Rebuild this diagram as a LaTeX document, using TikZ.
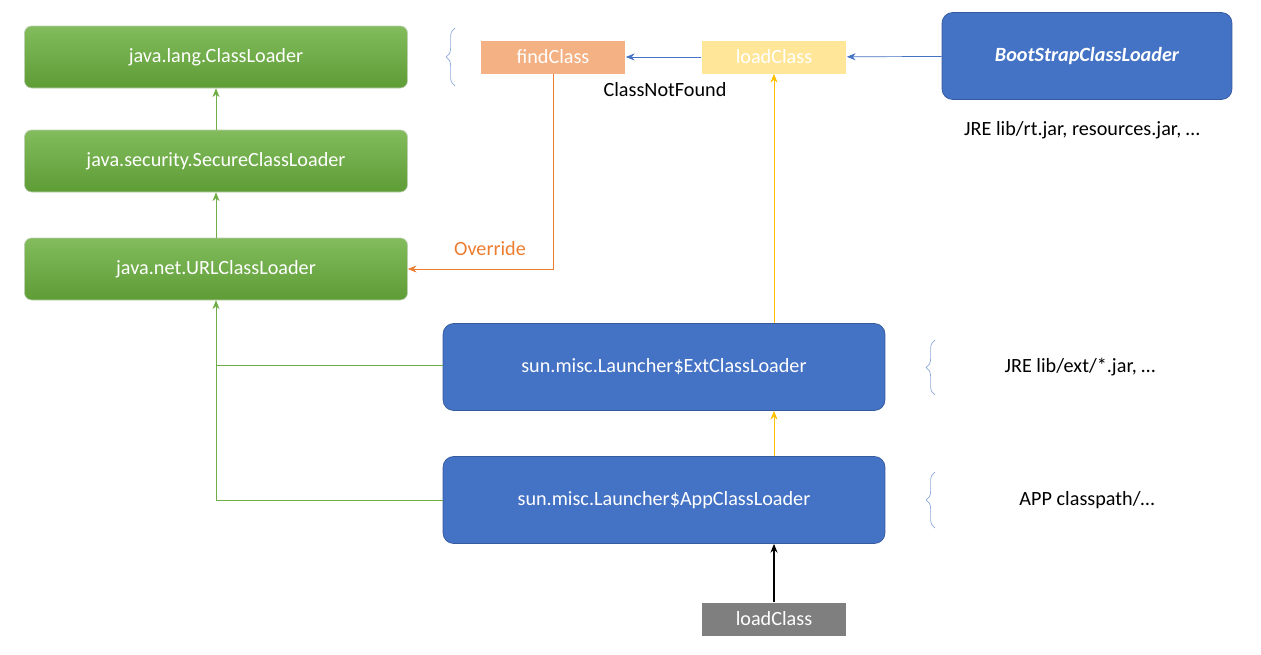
\documentclass[tikz,border=0pt]{standalone}
\usepackage{fontspec}
\setmainfont{Carlito}
\usetikzlibrary{decorations.pathreplacing,arrows.meta}
\definecolor{grn}{HTML}{70AD47}
\definecolor{grntop}{HTML}{82BC5C}
\definecolor{grnbot}{HTML}{5E9C36}
\definecolor{blu}{HTML}{4472C4}
\definecolor{sal}{HTML}{F4B183}
\definecolor{yel}{HTML}{FFE699}
\definecolor{gry}{HTML}{7F7F7F}
\definecolor{org}{HTML}{ED7D31}
\definecolor{gld}{HTML}{FFC000}
\definecolor{brc}{HTML}{8FAADC}
\tikzstyle{green} = [rounded corners=4pt,top color=grntop,bottom color=grnbot,draw=grn!80!black!40,text=white,minimum width=7.66cm,minimum height=1.24cm,font=\fontsize{11.5}{13}\selectfont]
\tikzstyle{blue} = [rounded corners=6pt,fill=blu,draw=blu!80!black,text=white,minimum height=1.74cm,font=\fontsize{11.5}{13}\selectfont]
\tikzstyle{small} = [minimum width=2.9cm,minimum height=0.66cm,font=\fontsize{11.5}{13}\selectfont]
\tikzstyle{note} = [font=\fontsize{11.5}{13}\selectfont]
\tikzstyle{brace} = [draw=brc,decorate,decoration={brace,amplitude=5pt}]
\begin{document}
\begin{tikzpicture}[x=0.02cm,y=-0.02cm,>={Stealth[length=5pt,width=4pt]}]
	\useasboundingbox (0,0) rectangle (1261,654);
	\node (cl) [green] at (216,57) {java.lang.ClassLoader};
	\node (scl) [green] at (216,161) {java.security.SecureClassLoader};
	\node (ucl) [green] at (216,269) {java.net.URLClassLoader};
	\node (find) [small,fill=sal,text=white] at (553,57) {findClass};
	\node (load) [small,fill=yel,text=white] at (774,57) {loadClass};
	\node (boot) [blue,minimum width=5.8cm,font=\fontsize{11.5}{13}\selectfont\bfseries\itshape] at (1087,56) {BootStrapClassLoader};
	\node (ext) [blue,minimum width=8.84cm] at (664,367) {sun.misc.Launcher\$ExtClassLoader};
	\node (app) [blue,minimum width=8.84cm] at (664,500) {sun.misc.Launcher\$AppClassLoader};
	\node (call) [small,fill=gry,text=white] at (774,619) {loadClass};
	\node (cnf) [note] at (665,90) {ClassNotFound};
	\node (rt) [note] at (1082,130) {JRE lib/rt.jar, resources.jar, …};
	\node (extjar) [note] at (1080,367) {JRE lib/ext/*.jar, …};
	\node (cp) [note] at (1087,500) {APP classpath/…};
	\node (ovr) [note,text=org] at (490,249) {Override};
	\coordinate (bend) at (553,269);
	\coordinate (ej) at (216,365);
	\coordinate (aj) at (216,500);
	% braces
	\draw [brace] (455,86) -- (455,28);
	\draw [brace] (935,395) -- (935,340);
	\draw [brace] (935,528) -- (935,472);
	% inheritance
	\draw [->,grn] (scl) -- (cl);
	\draw [->,grn] (ucl) -- (scl);
	\draw [grn] (ext.west |- ej) -- (ej);
	\draw [->,grn] (app.west |- aj) -- (aj) -- (ucl.south);
	% override
	\draw [->,org] (find.south) -- (bend) -- (ucl.east);
	% delegation
	\draw [->,gld] (app.north -| call) -- (ext.south -| call);
	\draw [->,gld] (ext.north -| call) -- (load.south);
	\draw [->,blu] (boot) -- (load);
	\draw [->,blu] (load) -- (find);
	\draw [->,black,thick] (call) -- (app.south -| call);
\end{tikzpicture}
\end{document}
